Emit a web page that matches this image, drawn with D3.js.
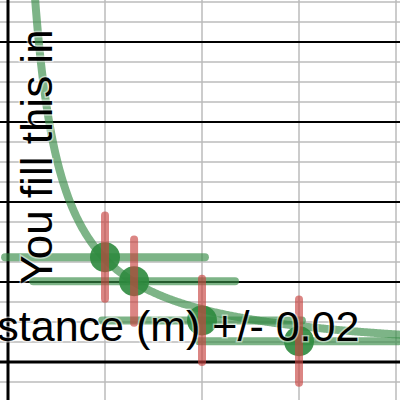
<!DOCTYPE html>
<html><head><meta charset="utf-8">
<script src="https://cdn.jsdelivr.net/npm/d3@7"></script>
<style>body{margin:0}svg{display:block}</style>
</head><body>
<svg width="400" height="400"></svg>
<script>
// measured distances and values with their uncertainties
var distances = [1.0, 1.3, 2.0, 3.0];
var values = [1.31, 1.01, 0.52, 0.26];
var xErr = [1.03, 1.04, 1.03, 1.03];
var yErr = [0.52, 0.52, 0.52, 0.52];
// fitted curve y = a / x + c
var fitA = 1.26, fitC = 0.03;
var xLabel = "Distance (m) +/- 0.02";
var yLabel = "You fill this in";

var svg = d3.select("svg");
var W = 400, H = 400;
var x = d3.scaleLinear().domain([0, 4]).range([8, 396]);
var y = d3.scaleLinear().domain([0, 4]).range([362, 42]);

// minor grid
var minorX = [1, 2, 3, 4], minorY = d3.range(-0.5, 4.6, 0.25);
svg.append("g").selectAll("line").data(minorX).enter().append("line")
  .attr("x1", function (d) { return x(d); }).attr("x2", function (d) { return x(d); })
  .attr("y1", 0).attr("y2", H).attr("stroke", "#bbb").attr("stroke-width", 1.5);
svg.append("g").selectAll("line").data(minorY).enter().append("line")
  .attr("y1", function (d) { return y(d); }).attr("y2", function (d) { return y(d); })
  .attr("x1", 0).attr("x2", W).attr("stroke", "#bbb").attr("stroke-width", 1.5);
// major horizontal lines
svg.append("g").selectAll("line").data([1, 2, 3, 4]).enter().append("line")
  .attr("y1", function (d) { return y(d); }).attr("y2", function (d) { return y(d); })
  .attr("x1", 0).attr("x2", W).attr("stroke", "#000").attr("stroke-width", 2);
// axes
svg.append("line").attr("x1", x(0)).attr("x2", x(0)).attr("y1", 0).attr("y2", H)
  .attr("stroke", "#000").attr("stroke-width", 3);
svg.append("line").attr("x1", 0).attr("x2", W).attr("y1", y(0)).attr("y2", y(0))
  .attr("stroke", "#000").attr("stroke-width", 3);

// fit curve
var xs = d3.range(0.2, 4.2, 0.01);
svg.append("path").datum(xs)
  .attr("d", d3.line().x(function (d) { return x(d); }).y(function (d) { return y(fitA / d + fitC); }))
  .attr("fill", "none").attr("stroke", "#388c46").attr("stroke-opacity", 0.65)
  .attr("stroke-width", 8);

var pts = distances.map(function (d, i) { return { x: d, y: values[i], ex: xErr[i], ey: yErr[i] }; });
// horizontal error bars
svg.append("g").selectAll("line").data(pts).enter().append("line")
  .attr("x1", function (d) { return x(d.x - d.ex); }).attr("x2", function (d) { return x(d.x + d.ex); })
  .attr("y1", function (d) { return y(d.y); }).attr("y2", function (d) { return y(d.y); })
  .attr("stroke", "#388c46").attr("stroke-opacity", 0.65).attr("stroke-width", 8)
  .attr("stroke-linecap", "round");
// points
svg.append("g").selectAll("circle").data(pts).enter().append("circle")
  .attr("cx", function (d) { return x(d.x); }).attr("cy", function (d) { return y(d.y); })
  .attr("r", 15).attr("fill", "#2d8a3e").attr("fill-opacity", 0.9);
// vertical error bars
svg.append("g").selectAll("line").data(pts).enter().append("line")
  .attr("x1", function (d) { return x(d.x); }).attr("x2", function (d) { return x(d.x); })
  .attr("y1", function (d) { return y(d.y - d.ey); }).attr("y2", function (d) { return y(d.y + d.ey); })
  .attr("stroke", "#c74440").attr("stroke-opacity", 0.65).attr("stroke-width", 8)
  .attr("stroke-linecap", "round");

// labels
svg.append("text").attr("x", 158).attr("y", 341).attr("text-anchor", "middle")
  .attr("font-family", "Liberation Sans, Arial, sans-serif").attr("font-size", 43)
  .attr("stroke", "#fff").attr("stroke-width", 3).attr("stroke-opacity", 0.5)
  .attr("paint-order", "stroke").text(xLabel);
svg.append("text").attr("transform", "translate(52,157) rotate(-90)").attr("text-anchor", "middle")
  .attr("font-family", "Liberation Sans, Arial, sans-serif").attr("font-size", 44)
  .attr("stroke", "#fff").attr("stroke-width", 3).attr("stroke-opacity", 0.5)
  .attr("paint-order", "stroke").text(yLabel);
</script>
</body></html>
